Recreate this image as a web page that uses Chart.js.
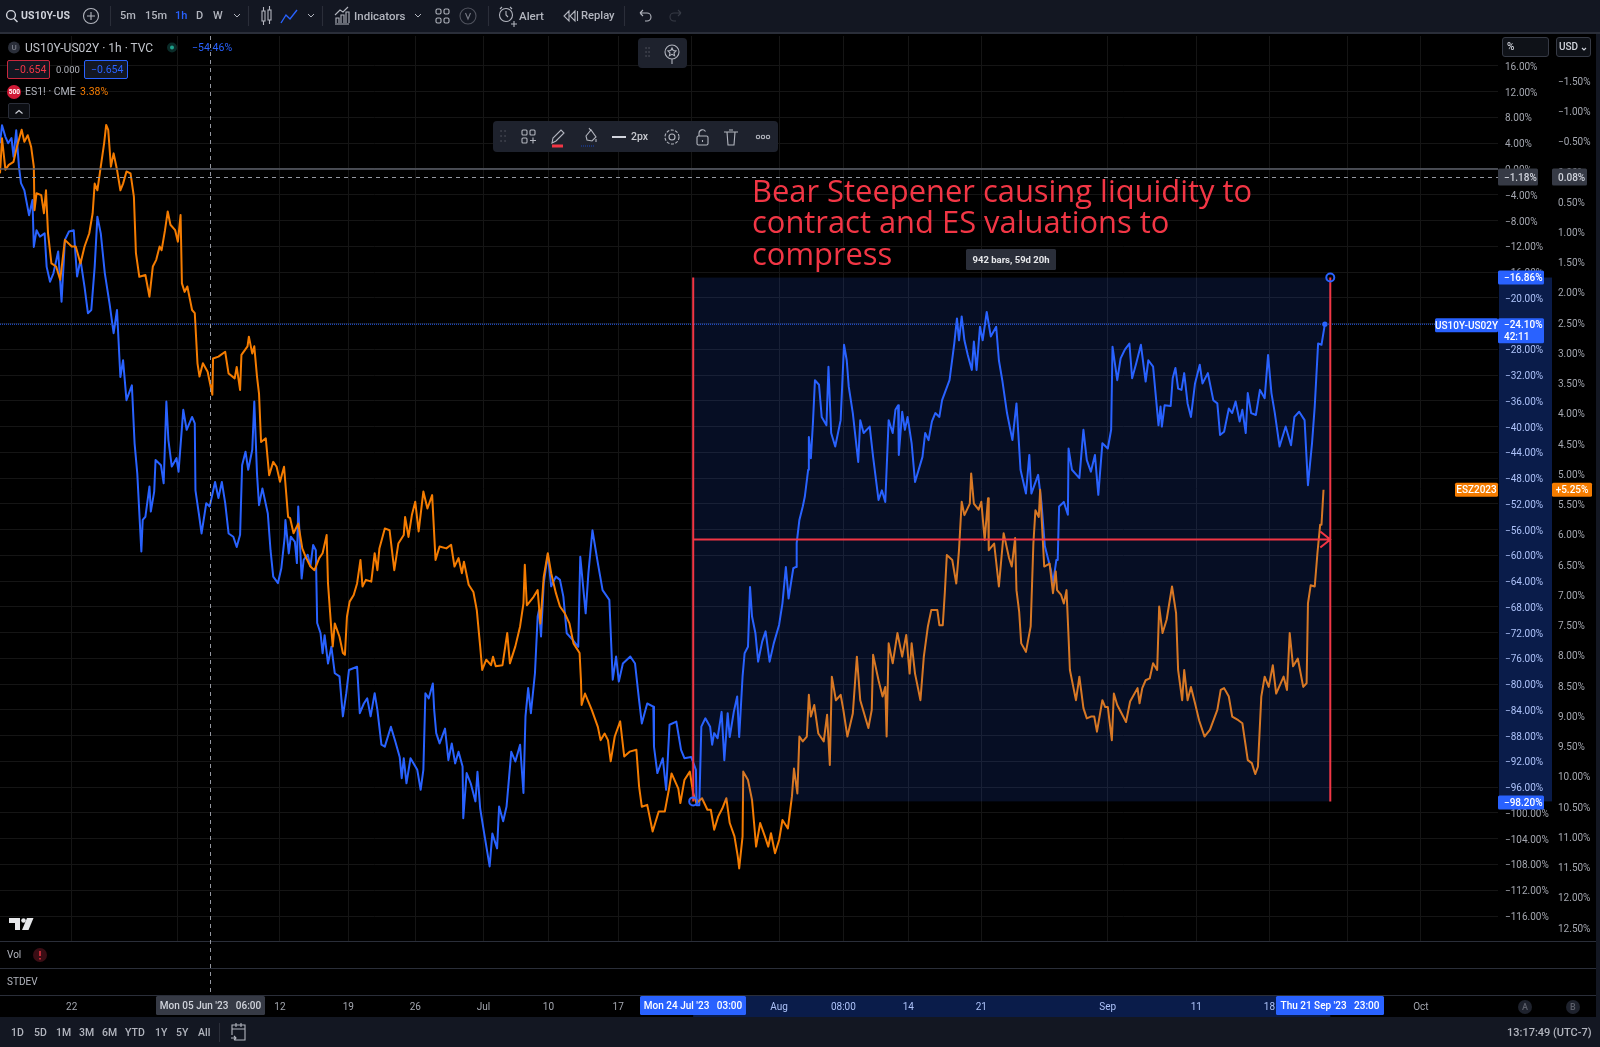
<!DOCTYPE html>
<html>
<head>
<meta charset="utf-8">
<title>US10Y-US02Y vs ES</title>
<script src="https://cdn.jsdelivr.net/npm/chart.js@4"></script>
<style>
html,body{margin:0;padding:0;background:#000;overflow:hidden;width:1600px;height:1047px;font-family:Roboto,sans-serif}
#c{position:absolute;left:0;top:0;display:block}
.bar{position:absolute;background:#131722}
.txt{position:absolute;white-space:pre;line-height:14px;z-index:7}
.box{position:absolute;box-sizing:border-box;z-index:4}
svg{position:absolute;left:0;top:0;z-index:6;pointer-events:none}
</style>
</head>
<body>
<canvas id="c" width="1600" height="1047"></canvas>
<script>
// ---- data (x = hourly bar number, blue = % change, orange = inverted % change)
const blueBars=[0,3,8,12,17,20,24,28,31,36,43,48,50,54,59,66,69,74,79,86,91,96,102,109,114,119,125,130,135,140,144,149,155,162,168,173,178,182,187,195,199,203,209,211,215,221,223,228,230,238,242,246,249,254,261,264,271,276,284,288,289,294,298,305,310,318,323,328,333,338,345,350,355,358,363,367,373,376,380,383,388,396,400,404,411,416,421,422,427,430,436,439,441,444,446,449,455,459,463,467,469,474,477,480,485,490,495,502,507,512,516,528,532,538,543,548,554,558,564,569,578,584,591,594,597,601,607,617,622,626,629,634,640,642,645,650,658,663,668,673,678,684,685,690,696,703,706,710,716,724,728,735,738,744,749,756,762,769,774,777,781,785,791,795,797,800,804,810,815,822,828,833,838,845,855,858,866,870,876,884,891,901,906,911,915,921,932,939,945,949,957,966,967,972,980,985,990,1000,1007,1012,1022,1029,1030,1034,1037,1043,1050,1053,1056,1061,1067,1071,1076,1079,1085,1090,1093,1098,1101,1106,1109,1112,1117,1121,1127,1132,1138,1144,1152,1157,1162,1166,1173,1177,1178,1182,1187,1190,1195,1196,1199,1202,1205,1211,1215,1222,1225,1229,1235,1243,1248,1252,1255,1261,1269,1272,1277,1286,1291,1299,1304,1309,1314,1320,1324,1328,1329,1334,1338,1342,1348,1353,1364,1368,1373,1378,1383,1389,1393,1404,1411,1415,1418,1422,1426,1431,1437,1440,1444,1449,1453,1459,1465,1473,1477,1482,1489,1493,1497,1503,1509,1517,1522,1525,1535,1540,1545,1554,1557,1562,1564,1566,1573,1579,1580,1585,1596,1602,1607,1613,1619,1624,1630,1638,1643,1645,1652,1657,1663,1670,1674,1680,1687,1694,1698,1705,1713,1716,1718,1722,1731,1734,1738,1742,1747,1751,1756,1761,1767,1774,1778,1786,1794,1800,1804,1810,1817,1822,1827,1833,1837,1842,1845,1850,1857,1863,1870,1875,1880,1885,1892,1901,1909,1914,1921,1929,1934,1940,1944,1949,1954,1959];
const blueValues=[4.0,6.8,5.0,4.0,4.8,1.9,6.0,0.4,-2.2,-3.3,-7.2,-4.8,-12.1,-9.5,-10.5,-10.0,-15.2,-17.5,-16.2,-12.8,-20.6,-11.0,-9.7,-9.5,-16.7,-14.1,-18.3,-22.4,-21.9,-15.2,-7.4,-10.0,-16.2,-20.9,-25.5,-21.9,-32.3,-29.7,-35.9,-33.6,-42.6,-47.3,-59.4,-54.5,-54.0,-49.3,-53.2,-50.1,-45.2,-46.0,-48.8,-36.1,-42.1,-46.2,-44.9,-47.0,-37.4,-40.5,-38.5,-39.5,-49.9,-53.5,-56.6,-51.9,-52.4,-48.6,-51.1,-48.6,-51.9,-56.6,-57.1,-58.7,-56.8,-46.0,-43.9,-46.7,-43.6,-36.1,-47.3,-52.2,-49.6,-53.5,-59.2,-63.3,-64.3,-62.0,-57.1,-54.5,-59.7,-57.1,-57.9,-61.2,-52.4,-59.2,-63.6,-60.7,-59.9,-61.7,-58.4,-59.2,-70.5,-72.1,-75.2,-72.4,-76.8,-74.2,-78.3,-78.8,-85.0,-81.4,-77.8,-77.3,-84.5,-83.0,-82.2,-85.0,-81.4,-84.0,-89.4,-89.7,-86.6,-88.7,-91.3,-94.6,-91.5,-95.4,-91.5,-93.3,-96.4,-93.3,-81.4,-82.2,-79.9,-84.0,-87.6,-89.2,-86.9,-91.8,-89.2,-92.3,-90.5,-92.8,-100.8,-93.8,-95.4,-98.2,-93.6,-99.3,-103.2,-108.3,-103.2,-105.5,-99.0,-101.3,-99.0,-90.5,-92.0,-89.4,-96.9,-85.0,-80.6,-84.5,-78.3,-69.5,-68.5,-72.6,-64.3,-59.9,-64.8,-63.3,-63.8,-66.4,-72.1,-72.9,-74.2,-60.2,-69.0,-62.8,-56.1,-61.2,-65.4,-66.9,-79.3,-75.7,-79.6,-76.8,-75.7,-76.8,-82.5,-86.1,-83.0,-83.5,-89.7,-93.8,-91.5,-96.4,-86.3,-85.8,-90.2,-91.5,-91.3,-93.3,-98.8,-98.8,-86.6,-85.3,-86.6,-89.4,-87.6,-88.4,-84.3,-91.8,-84.5,-88.2,-84.3,-81.9,-88.2,-78.8,-75.2,-74.2,-64.9,-69.5,-72.1,-76.5,-73.4,-71.8,-76.5,-73.7,-70.8,-67.4,-61.8,-66.7,-62.0,-61.8,-58.1,-54.5,-52.4,-50.9,-46.7,-41.6,-44.9,-39.5,-32.8,-33.5,-38.5,-39.8,-30.7,-41.0,-43.1,-39.0,-27.3,-29.7,-33.8,-37.9,-45.5,-39.0,-41.0,-40.0,-44.7,-51.4,-49.9,-51.7,-39.0,-41.0,-37.4,-36.7,-44.4,-37.7,-40.5,-38.5,-42.6,-48.6,-44.7,-41.0,-42.1,-39.2,-37.9,-38.5,-35.9,-32.8,-27.1,-23.2,-26.6,-22.9,-26.6,-28.9,-31.2,-26.8,-31.2,-24.5,-26.6,-22.2,-26.0,-24.5,-29.7,-32.8,-37.9,-40.0,-42.1,-36.4,-46.7,-50.4,-44.4,-50.4,-47.5,-51.9,-58.6,-62.3,-64.3,-60.7,-60.7,-52.4,-51.7,-53.7,-43.4,-46.7,-48.0,-40.5,-45.2,-47.0,-44.4,-50.6,-42.6,-43.4,-40.5,-27.6,-32.8,-29.4,-28.1,-27.1,-32.5,-30.2,-27.3,-33.0,-29.7,-30.7,-39.8,-36.9,-40.0,-36.7,-36.8,-32.5,-30.9,-34.1,-34.3,-31.7,-36.4,-38.5,-33.3,-30.4,-33.3,-31.7,-35.9,-36.4,-41.3,-40.8,-37.2,-37.9,-36.1,-39.2,-37.4,-41.0,-34.8,-37.9,-38.2,-34.3,-35.6,-28.9,-34.8,-37.9,-43.1,-40.0,-42.9,-38.5,-37.7,-39.0,-49.1,-42.6,-36.9,-27.1,-27.3,-24.1];
const orangeBars=[0,3,8,13,20,25,32,36,41,46,50,51,54,61,65,68,71,76,83,89,96,106,112,119,125,132,137,140,144,150,154,157,160,164,168,173,178,182,187,193,198,201,206,215,221,226,231,236,239,244,248,252,259,263,267,269,273,277,284,288,292,295,300,307,314,315,323,333,338,347,350,355,357,366,368,373,376,380,383,386,393,398,404,409,414,420,426,429,434,441,447,452,459,465,472,477,483,485,490,492,495,502,507,510,513,517,523,528,533,536,541,549,554,558,561,569,576,583,589,597,599,604,609,614,619,626,632,639,644,650,660,667,672,678,683,686,693,700,705,710,713,719,726,729,733,743,750,754,762,769,774,776,779,789,795,799,804,810,815,822,828,835,842,848,857,859,860,865,875,884,888,894,899,903,909,917,923,931,941,945,949,957,965,974,983,989,993,1003,1006,1012,1020,1025,1030,1038,1046,1051,1056,1062,1068,1074,1079,1086,1091,1093,1098,1099,1106,1112,1115,1118,1124,1131,1136,1140,1146,1152,1157,1165,1171,1174,1179,1182,1187,1193,1196,1199,1204,1210,1218,1223,1227,1230,1236,1243,1247,1253,1261,1267,1272,1284,1289,1291,1299,1305,1309,1311,1314,1320,1327,1334,1340,1345,1348,1353,1361,1366,1372,1377,1386,1389,1394,1397,1400,1408,1414,1418,1422,1426,1434,1436,1440,1447,1451,1456,1461,1462,1470,1477,1484,1492,1496,1501,1503,1507,1510,1517,1524,1528,1531,1536,1538,1544,1552,1557,1561,1563,1569,1573,1577,1580,1582,1587,1591,1596,1602,1607,1613,1618,1622,1630,1634,1638,1644,1647,1652,1665,1671,1682,1685,1689,1694,1700,1705,1711,1714,1719,1725,1733,1739,1742,1748,1751,1756,1761,1767,1773,1781,1789,1800,1805,1810,1817,1822,1831,1837,1845,1851,1856,1860,1865,1870,1876,1882,1887,1898,1903,1907,1912,1919,1927,1932,1934,1938,1944,1948,1952,1954,1957];
const orangeValues=[0.03,-0.55,-0.03,-0.11,-0.16,-0.41,-0.69,-0.49,-0.60,-0.41,-0.08,0.64,0.36,0.39,0.69,0.31,1.02,1.52,1.57,1.79,1.13,1.24,1.24,1.52,1.24,1.02,0.69,0.20,0.31,-0.16,-0.47,-0.77,-0.69,-0.08,-0.30,-0.03,0.31,0.20,0.00,0.03,0.42,1.35,1.74,1.71,2.07,1.57,1.46,1.24,1.30,0.97,0.66,0.88,0.97,1.16,0.72,1.85,1.99,1.90,2.29,2.34,3.17,3.39,3.17,3.31,3.69,3.09,3.06,2.98,3.34,3.42,3.23,3.61,3.03,2.89,2.73,3.01,2.89,3.39,3.67,4.47,4.41,5.02,4.80,4.88,5.13,4.88,5.71,5.73,5.98,5.82,6.23,6.37,6.53,6.59,6.39,6.31,6.01,6.81,7.58,7.85,7.47,7.69,7.96,7.99,7.36,7.11,7.00,6.81,6.42,6.86,6.75,6.78,6.31,6.59,6.23,5.90,5.93,6.59,6.15,6.01,5.71,6.04,5.68,5.46,5.95,5.29,5.57,5.35,6.42,6.20,6.23,6.17,6.53,6.39,6.64,6.45,6.83,6.95,7.25,7.85,8.24,8.07,8.16,8.02,8.18,8.16,7.63,8.13,7.85,7.52,7.14,6.50,7.17,7.03,6.92,7.47,6.70,6.31,6.64,6.97,7.19,7.30,7.47,7.80,7.96,8.40,8.82,8.63,8.90,9.18,9.40,9.29,9.40,9.75,9.34,9.09,9.67,9.59,9.56,10.17,10.50,10.47,10.91,10.58,10.58,10.22,9.95,10.20,10.44,10.06,9.92,10.28,10.44,10.36,10.55,10.55,10.88,10.66,10.53,10.36,10.77,10.99,11.33,11.52,10.99,9.92,10.06,10.39,10.77,11.16,10.77,10.99,11.16,10.94,11.27,11.05,10.72,10.86,10.33,9.87,10.28,9.34,9.42,9.34,8.65,9.01,8.82,9.29,9.42,8.98,9.81,8.35,8.74,8.65,8.90,9.34,8.96,8.02,8.74,9.20,8.90,7.99,8.41,8.68,8.52,9.34,7.80,8.13,7.63,8.02,7.66,8.30,7.80,8.30,8.74,8.02,7.52,7.25,7.25,7.50,7.50,6.97,6.34,6.42,6.81,6.26,5.46,5.68,5.49,4.99,5.49,5.59,5.46,6.09,5.40,6.26,6.15,6.86,5.98,6.39,6.53,6.06,6.92,7.28,7.80,7.94,7.52,6.15,5.60,5.71,5.26,6.53,6.48,6.97,6.61,6.92,7.00,7.14,6.92,7.69,8.24,8.52,8.74,8.35,8.87,9.04,9.01,9.01,9.26,8.74,8.85,8.85,9.40,8.63,8.82,9.10,8.76,8.54,8.79,8.54,8.41,8.38,8.13,8.24,7.19,7.63,7.41,6.86,7.30,8.24,8.74,8.24,8.74,8.52,8.79,9.07,9.34,9.23,8.90,8.57,8.54,8.68,9.01,9.07,9.12,9.73,9.78,9.96,9.84,8.68,8.35,8.52,8.16,8.63,8.35,8.57,7.63,8.18,8.05,8.52,8.46,7.14,6.84,6.86,6.31,5.84,5.84,5.26];
const timeTickBars=[106,262,414,515,614,715,811,914,1022,1152,1247,1343,1451,1638,1769,1877,1993,2101];
const timeTickLabels=["22","Jun","12","19","26","Jul","10","17","24","Aug","08:00","14","21","Sep","11","18","25","Oct"];
const pctTicks=[16,12,8,4,0,-4,-8,-12,-16,-20,-24,-28,-32,-36,-40,-44,-48,-52,-56,-60,-64,-68,-72,-76,-80,-84,-88,-92,-96,-100,-104,-108,-112,-116];
const yieldTicks=[-1.5,-1,-0.5,0,0.5,1,1.5,2,2.5,3,3.5,4,4.5,5,5.5,6,6.5,7,7.5,8,8.5,9,9.5,10,10.5,11,11.5,12,12.5];
const rangeStartBar=1025, rangeEndBar=1967, rangeTopPct=-16.86, rangeBottomPct=-98.20;
const crosshairBar=311, crosshairPct=-1.18, lastPct=-24.10;

const fmt=v=>(v<0?'\u2212':'')+Math.abs(v).toFixed(2)+'%';
const RED='#f23645', BLUE='#2962ff', ORANGE='#f57c00', BAND='#0a1c4a';

function tag(ctx,x,y,w,h,bg,lines,color,align,font){
  ctx.save();ctx.fillStyle=bg;ctx.beginPath();ctx.roundRect(x,y,w,h,1.5);ctx.fill();
  ctx.fillStyle=color;ctx.font=font||'500 10px Roboto';ctx.textBaseline='middle';ctx.textAlign=align||'left';
  const tx=align==='center'?x+w/2:x+6;
  if(lines.length===1)ctx.fillText(lines[0],tx,y+h/2+1);
  else lines.forEach((l,i)=>ctx.fillText(l,tx,y+7.5+i*12));
  ctx.restore();
}
// the picture's scale labels sit a little lower than Chart.js centres them
function nudgeLabels(s){
  if(s._nudged)return; s._nudged=true;
  const orig=s._computeLabelItems;
  s._computeLabelItems=function(a){const items=orig.call(this,a);items.forEach(i=>{i.options.translation[1]+=1.5;});return items;};
}

const overlay={
  id:'overlay',
  afterDatasetsDraw(ch){
    const {ctx,chartArea:a,scales:{x,y1}}=ch;
    const px0=x.getPixelForValue(rangeStartBar),px1=x.getPixelForValue(rangeEndBar);
    const t=y1.getPixelForValue(rangeTopPct),b=y1.getPixelForValue(rangeBottomPct),m=(t+b)/2;
    ctx.save();
    ctx.strokeStyle='#5d606b';ctx.lineWidth=1.5;ctx.beginPath();ctx.moveTo(0,y1.getPixelForValue(0));ctx.lineTo(a.right,y1.getPixelForValue(0));ctx.stroke();
    ctx.strokeStyle=BLUE;ctx.lineWidth=1;ctx.setLineDash([1,1]);ctx.beginPath();ctx.moveTo(0,y1.getPixelForValue(lastPct));ctx.lineTo(a.right,y1.getPixelForValue(lastPct));ctx.stroke();
    ctx.setLineDash([]);
    ctx.fillStyle='rgba(41,98,255,0.14)';ctx.fillRect(px0,t,px1-px0,b-t);
    ctx.strokeStyle=RED;ctx.lineWidth=2;
    ctx.beginPath();ctx.moveTo(px0,b);ctx.lineTo(px0,t);ctx.moveTo(px1,b);ctx.lineTo(px1,t);ctx.moveTo(px0,m);ctx.lineTo(px1,m);
    ctx.moveTo(px1-10,m-8);ctx.lineTo(px1,m);ctx.lineTo(px1-10,m+8);ctx.stroke();
    ctx.strokeStyle='#2962ff';ctx.lineWidth=2;
    [[px0,b],[px1,t]].forEach(p=>{ctx.beginPath();ctx.arc(p[0],p[1],4,0,Math.PI*2);ctx.stroke();});
    ctx.fillStyle=BLUE;ctx.beginPath();ctx.arc(x.getPixelForValue(blueBars[blueBars.length-1]),y1.getPixelForValue(blueValues[blueValues.length-1]),2.6,0,Math.PI*2);ctx.fill();
    ctx.restore();
  },
  afterDraw(ch){
    const {ctx,chartArea:a,scales:{x,y1,y2}}=ch;
    const px0=x.getPixelForValue(rangeStartBar),px1=x.getPixelForValue(rangeEndBar);
    const t=y1.getPixelForValue(rangeTopPct),b=y1.getPixelForValue(rangeBottomPct);
    ctx.save();
    ctx.globalCompositeOperation='lighter';
    ctx.fillStyle=BAND;ctx.fillRect(a.right+1,t,53,b-t);ctx.fillRect(px0,996,px1-px0,21);
    ctx.globalCompositeOperation='source-over';
    ctx.strokeStyle='#2a2e39';ctx.lineWidth=1;
    [941.5,968.5,995.5].forEach(v=>{ctx.beginPath();ctx.moveTo(0,v);ctx.lineTo(1600,v);ctx.stroke();});
    ctx.strokeStyle='#9598a1';ctx.lineWidth=1;ctx.setLineDash([4,4]);
    const cx=Math.round(x.getPixelForValue(crosshairBar))+.5, cy=Math.round(y1.getPixelForValue(crosshairPct))+.5;
    ctx.beginPath();ctx.moveTo(cx,36);ctx.lineTo(cx,995);ctx.moveTo(0,cy);ctx.lineTo(a.right,cy);ctx.stroke();
    ctx.setLineDash([]);
    const zy=y1.getPixelForValue(crosshairPct);
    tag(ctx,1498,zy-8,40,17,'#363a45',[fmt(crosshairPct)],'#d1d4dc');
    tag(ctx,1552,zy-8,35,17,'#363a45',['0.08%'],'#d1d4dc');
    tag(ctx,1498,t-7,46,14,BLUE,[fmt(rangeTopPct)],'#fff');
    tag(ctx,1498,b-6,46,14,BLUE,[fmt(rangeBottomPct)],'#fff');
    const ly=y1.getPixelForValue(lastPct);
    tag(ctx,1498,ly-6,46,25,BLUE,[fmt(lastPct),'42:11'],'#fff');
    tag(ctx,1435,ly-6,63,14,BLUE,['US10Y-US02Y'],'#fff','center');
    const oy=y2.getPixelForValue(orangeValues[orangeValues.length-1]);
    tag(ctx,1455,oy-7,43,14,ORANGE,['ESZ2023'],'#fff','center');
    tag(ctx,1552,oy-7,40,14,ORANGE,['+5.25%'],'#fff','center');
    tag(ctx,966,249,90,21,'#2a2e39',['942 bars, 59d 20h'],'#e6e7ea','center','700 9.5px Roboto');
    tag(ctx,156,996,109,19,'#363a45',["Mon 05 Jun '23   06:00"],'#d1d4dc','center');
    tag(ctx,640,996,106,19,BLUE,["Mon 24 Jul '23   03:00"],'#fff','center');
    tag(ctx,1276,996,108,19,BLUE,["Thu 21 Sep '23   23:00"],'#fff','center');
    ctx.restore();
  }
};

new Chart(document.getElementById('c'),{
  type:'line',
  data:{datasets:[
    {label:'ES1! (CME)',yAxisID:'y2',xAxisID:'x',borderColor:ORANGE,borderWidth:2,borderJoinStyle:'round',pointRadius:0,order:1,tension:0,
     data:orangeBars.map((b,i)=>({x:b,y:orangeValues[i]}))},
    {label:'US10Y-US02Y',yAxisID:'y1',xAxisID:'x',borderColor:BLUE,borderWidth:2,borderJoinStyle:'round',pointRadius:0,order:2,tension:0,
     data:blueBars.map((b,i)=>({x:b,y:blueValues[i]}))}
  ]},
  options:{
    responsive:false,devicePixelRatio:1,animation:false,
    layout:{padding:{top:36,left:0,right:0,bottom:0}},
    plugins:{legend:{display:false},tooltip:{enabled:false}},
    scales:{
      x:{type:'linear',min:0,max:2215,position:'bottom',
        afterFit(s){s.height=106;},
        afterBuildTicks(s){s.ticks=timeTickBars.map(v=>({value:v}));},
        border:{display:false},
        grid:{color:'#151515',lineWidth:1,drawTicks:false},
        ticks:{autoSkip:false,maxRotation:0,padding:60,color:'#a3a6af',font:{family:'Roboto',size:10},
          callback:(v)=>timeTickLabels[timeTickBars.indexOf(v)]}},
      y1:{type:'linear',position:'right',min:-119.88,max:20.65,weight:1,
        afterFit(s){s.width=54;nudgeLabels(s);},
        afterBuildTicks(s){s.ticks=pctTicks.map(v=>({value:v}));},
        border:{display:false},
        grid:{color:'#151515',lineWidth:1,drawTicks:false},
        ticks:{autoSkip:false,padding:7,color:'#a3a6af',font:{family:'Roboto',size:10},callback:v=>fmt(v)}},
      y2:{type:'linear',position:'right',min:-2.24,max:12.72,reverse:true,weight:2,
        afterFit(s){s.width=48;nudgeLabels(s);},
        afterBuildTicks(s){s.ticks=yieldTicks.map(v=>({value:v}));},
        border:{display:false},
        grid:{display:false,drawTicks:false},
        ticks:{autoSkip:false,padding:6,color:'#a3a6af',font:{family:'Roboto',size:10},callback:v=>fmt(v)}}
    }
  },
  plugins:[overlay]
});

// ---- TradingView chrome as real text
const chromeText=[
 ['US10Y-US',21,16,'#d1d4dc',10.5,700],['5m',120,16,'#b2b5be',11,500],['15m',145,16,'#b2b5be',11,500],['1h',175,16,'#2962ff',11,500],['D',196,16,'#b2b5be',11,500],['W',213,16,'#b2b5be',11,500],
 ['Indicators',354,16,'#b2b5be',11.5,500],['Alert',519,16,'#b2b5be',11.5,500],['Replay',581,16,'#b2b5be',11.2,500],
 ['US10Y-US02Y \u00b7 1h \u00b7 TVC',25,47.5,'#c2c5cc',12,400],['\u221254.46%',192,47.5,'#2962ff',10.5,400],
 ['U',11.5,47.5,'#787b86',8,500],['500',8.8,92,'#ffffff',6.5,700],
 ['0.000',56,69.5,'#b2b5be',9.5,400],
 ['ES1! \u00b7 CME',25,92,'#b2b5be',10.5,400],['3.38%',80,92,'#f57c00',10.5,400],
 ['Vol',7,955,'#b2b5be',10,400],['STDEV',7,982,'#b2b5be',10,400],
 ['1D',11,1033,'#b2b5be',10.5,500],['5D',34,1033,'#b2b5be',10.5,500],['1M',56,1033,'#b2b5be',10.5,500],['3M',79,1033,'#b2b5be',10.5,500],['6M',102,1033,'#b2b5be',10.5,500],['YTD',125,1033,'#b2b5be',10.5,500],['1Y',155,1033,'#b2b5be',10.5,500],['5Y',176,1033,'#b2b5be',10.5,500],['All',198,1033,'#b2b5be',10.5,500],
 ['13:17:49 (UTC-7)',1507,1033,'#b2b5be',11,500],
 ['2px',631,137,'#c8cad0',10.5,500],
 ['%',1507,47,'#d1d4dc',10,500],['USD',1559,47,'#d1d4dc',10,500],
 ['A',1522,1007,'#5d606b',9,500],['B',1570,1007,'#5d606b',9,500]
];
const chromeBars=[[0,0,1600,32],[0,1017,1600,30],[1596,32,4,985]];
const chromeBoxes=[
 [638,38,49,30,'#1e222d','',4],[493,121,285,31,'#1e222d','',4],
 [7,60,43,19,'#131722','1px solid #c8283d',2],[84,60,44,19,'#131722','1px solid #2962ff',2],
 [8,103,22,16,'#0c0e13','1px solid #2a2e39',2],
 [1502,37,47,20,'#0f1218','1px solid #363a45',3],[1556,37,35,20,'#0f1218','1px solid #363a45',3],
 [0,32,1600,2,'#2a2e39','',0]
];
chromeBars.forEach(b=>{const d=document.createElement('div');d.className='bar';d.style.cssText=`left:${b[0]}px;top:${b[1]}px;width:${b[2]}px;height:${b[3]}px;z-index:3`;document.body.appendChild(d);});
chromeBoxes.forEach(b=>{const d=document.createElement('div');d.className='box';d.style.cssText=`left:${b[0]}px;top:${b[1]}px;width:${b[2]}px;height:${b[3]}px;background:${b[4]};border:${b[5]||'none'};border-radius:${b[6]}px`;document.body.appendChild(d);});
function addText(s,x,y,c,size,w){const d=document.createElement('div');d.className='txt';d.textContent=s;d.style.cssText=`left:${x}px;top:${y-7}px;color:${c};font-size:${size}px;font-weight:${w}`;document.body.appendChild(d);}
chromeText.forEach(t=>addText(...t));
addText('\u22120.654',14,69.5,'#f23645',10.5,400);
addText('\u22120.654',91,69.5,'#2962ff',10.5,400);

// annotation
['Bear Steepener causing liquidity to','contract and ES valuations to','compress'].forEach((l,i)=>{
  const d=document.createElement('div');d.className='txt';d.textContent=l;
  d.style.cssText=`left:752px;top:${[171,202,234][i]}px;color:#f23645;font-family:'Open Sans',sans-serif;font-size:30.9px;line-height:38px`;
  document.body.appendChild(d);
});
</script>
<svg width="1600" height="1047" fill="none" stroke="#b2b5be" stroke-width="1.1">
  <circle cx="11" cy="15" r="4.4" stroke="#d1d4dc" stroke-width="1.4"/><path d="M14 18.5l3.5 3.5" stroke="#d1d4dc" stroke-width="1.4"/>
  <circle cx="91" cy="16" r="7.5"/><path d="M87 16h8M91 12v8"/>
  <path d="M110.500 6v20M248.500 6v20M322.500 6v20M488.500 6v20M624.500 6v20" stroke="#2a2e39"/>
  <path d="M234 14l3 3 3-3M308 14l3 3 3-3M415 14l3 3 3-3" stroke-width="1"/>
  <rect x="262" y="11" width="3" height="10"/><path d="M263.500 7v4M263.500 21v4"/><rect x="268" y="10" width="3" height="10"/><path d="M269.500 6v4M269.500 20v4"/>
  <path d="M281 23l5-8 4 4 7-9" stroke="#2962ff" stroke-width="1.4"/>
  <path d="M335 24h14M336 23v-5h3v5M341 23v-8h3v8M346 23v-11h3v11M335 15l5-5 3 2 5-5"/>
  <rect x="436" y="9" width="5" height="5" rx="1.5"/><rect x="444" y="9" width="5" height="5" rx="1.5"/><rect x="436" y="18" width="5" height="5" rx="1.5"/><rect x="444" y="18" width="5" height="5" rx="1.5"/>
  <circle cx="468" cy="16" r="8" stroke="#50535e"/><path d="M465.500 13l2.500 6 2.500-6" stroke="#787b86"/>
  <circle cx="506" cy="15" r="6.500"/><path d="M506 11v4l2 2M500 9l2-2M512 9l-2-2M511 24h6M514 21v6"/>
  <path d="M569 11l-5 5 5 5zM575 11l-5 5 5 5zM577.500 11v10"/>
  <path d="M640 13h7a4 4 0 0 1 0 8h-2M640 13l3-3M640 13l3 3"/>
  <path d="M681 13h-7a4 4 0 0 0 0 8h2M681 13l-3-3M681 13l-3 3" stroke="#363a45"/>
  <circle cx="14" cy="47.500" r="6" fill="#2a2e39" stroke="none"/>
  <circle cx="172" cy="47.500" r="3.500" fill="#1fa08a" stroke="#0a2b28" stroke-width="3"/>
  <circle cx="14" cy="92" r="7" fill="#d01a36" stroke="none"/>
  <path d="M15.500 113.500l3.500-3 3.500 3" stroke="#d1d4dc"/>
  <path d="M646 48h.1M649 48h.1M646 52h.1M649 52h.1M646 56h.1M649 56h.1" stroke="#50535e" stroke-width="1.6" stroke-linecap="round"/>
  <circle cx="672" cy="52" r="7"/><path d="M672 59v5M672 48l1.200 2.600 2.800.3-2 2 .6 2.800-2.600-1.400-2.600 1.400.6-2.800-2-2 2.800-.3z"/>
  <path d="M501 131h.1M505 131h.1M501 136h.1M505 136h.1M501 141h.1M505 141h.1" stroke="#50535e" stroke-width="1.6" stroke-linecap="round"/>
  <rect x="522" y="130" width="5" height="5" rx="1"/><rect x="530" y="130" width="5" height="5" rx="1"/><rect x="522" y="138" width="5" height="5" rx="1"/><path d="M530 140.500h6M533 137.500v6"/>
  <path d="M552 143l1-5 8-8 3 3-8 8z"/>
  <path d="M552 146h11" stroke="#f23645" stroke-width="3"/>
  <path d="M586 136l5-6 5 7-4 4-5-1zM589 128l2 3M596 139v3"/>
  <path d="M581 146h14" stroke="#1b3a8a" stroke-width="1.500" stroke-dasharray="1 1"/>
  <path d="M612 137h14" stroke="#d1d4dc" stroke-width="2"/>
  <circle cx="672" cy="137" r="3"/><circle cx="672" cy="137" r="7" stroke-dasharray="3 1.500"/>
  <rect x="697" y="136" width="11" height="9" rx="1.500"/><path d="M699 136v-3a3.500 3.500 0 0 1 6.500-1.500M702.500 140v2"/>
  <path d="M724 132h14M727 132l1 13h6l1-13M729 130h4"/>
  <circle cx="758" cy="137" r="1.700"/><circle cx="763" cy="137" r="1.700"/><circle cx="768" cy="137" r="1.700"/>
  <path d="M1582 48l2 2 2-2" stroke="#d1d4dc"/>
  <circle cx="40" cy="955" r="7" fill="#3a0d14" stroke="none"/><path d="M40 951v5M40 958v1.500" stroke="#f23645" stroke-width="1.400"/>
  <path d="M9 918h11v12h-5v-7h-6z" fill="#e6e7ea" stroke="none"/><circle cx="23.500" cy="920.500" r="2.300" fill="#e6e7ea" stroke="none"/><path d="M27 918h6.500l-5 12h-6.500z" fill="#e6e7ea" stroke="none"/>
  <path d="M219.500 1023v19" stroke="#2a2e39"/>
  <path d="M234 1040h11v-15h-13v10M232 1029h13M236 1023v4M241 1023v4M231 1038h5M234 1036l2 2-2 2"/>
  <circle cx="1525" cy="1007" r="7" fill="#1e222d" stroke="none"/><circle cx="1573" cy="1007" r="7" fill="#1e222d" stroke="none"/>
</svg>
</body>
</html>
